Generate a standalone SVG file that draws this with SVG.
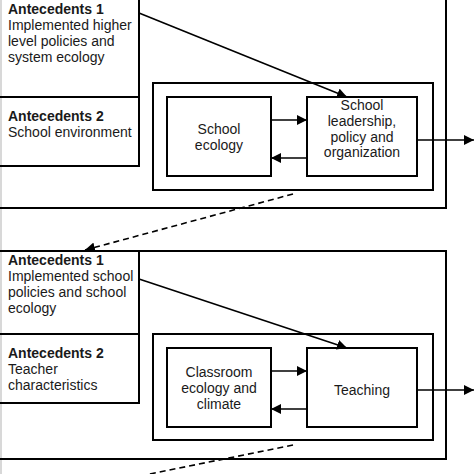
<svg xmlns="http://www.w3.org/2000/svg" width="474" height="474" viewBox="0 0 474 474">
<defs>
<style>
.box{fill:none;stroke:#000;stroke-width:2}
.ln{fill:none;stroke:#000;stroke-width:1.6}
.dash{fill:none;stroke:#000;stroke-width:1.6;stroke-dasharray:6,4}
text{font-family:"Liberation Sans",Arial,sans-serif;font-size:14px;fill:#1a1a1a}
.b{font-weight:bold}
.c{text-anchor:middle}
</style>
<marker id="ah" viewBox="0 0 10 10" refX="10" refY="5" markerWidth="10" markerHeight="10" markerUnits="userSpaceOnUse" orient="auto">
<path d="M0,0 L10,5 L0,10 z" fill="#000"/>
</marker>
</defs>
<rect x="0" y="0" width="474" height="474" fill="#fff"/>
<line x1="1" y1="0" x2="1" y2="474" stroke="#d8d8d8" stroke-width="2"/>

<g id="section1">
<rect class="box" x="-5" y="-10" width="451" height="218"/>
</g>
<g id="antecedents1-top">
<rect class="box" x="-5" y="-10" width="144" height="107"/>
<text class="b" x="8" y="14">Antecedents 1</text>
<text x="8" y="30">Implemented higher</text>
<text x="8" y="46">level policies and</text>
<text x="8" y="62">system ecology</text>
</g>
<g id="antecedents2-top">
<rect class="box" x="-5" y="97" width="144" height="69"/>
<text class="b" x="8" y="121">Antecedents 2</text>
<text x="8" y="137">School environment</text>
</g>
<g id="inner-top">
<rect class="box" x="153" y="83" width="280" height="107"/>
</g>
<g id="school-ecology">
<rect class="box" x="167" y="97" width="104" height="79"/>
<text class="c" x="219" y="134">School</text>
<text class="c" x="219" y="150">ecology</text>
</g>
<g id="school-leadership">
<rect class="box" x="307" y="97" width="110" height="79"/>
<text class="c" x="362" y="110">School</text>
<text class="c" x="362" y="126">leadership,</text>
<text class="c" x="362" y="142">policy and</text>
<text class="c" x="362" y="157">organization</text>
</g>

<g id="section2">
<rect class="box" x="-5" y="251" width="451" height="208"/>
</g>
<g id="antecedents1-bottom">
<rect class="box" x="-5" y="251" width="144" height="83"/>
<text class="b" x="8" y="265">Antecedents 1</text>
<text x="8" y="281">Implemented school</text>
<text x="8" y="297">policies and school</text>
<text x="8" y="313">ecology</text>
</g>
<g id="antecedents2-bottom">
<rect class="box" x="-5" y="334" width="144" height="69"/>
<text class="b" x="8" y="358">Antecedents 2</text>
<text x="8" y="374">Teacher</text>
<text x="8" y="390">characteristics</text>
</g>
<g id="inner-bottom">
<rect class="box" x="153" y="334" width="280" height="106"/>
</g>
<g id="classroom">
<rect class="box" x="167" y="348" width="104" height="79"/>
<text class="c" x="219" y="377">Classroom</text>
<text class="c" x="219" y="393">ecology and</text>
<text class="c" x="219" y="409">climate</text>
</g>
<g id="teaching">
<rect class="box" x="307" y="348" width="110" height="79"/>
<text class="c" x="362" y="395">Teaching</text>
</g>

<g id="connectors">
<line class="ln" x1="139" y1="13" x2="347" y2="97" marker-end="url(#ah)"/>
<line class="ln" x1="271" y1="120" x2="307" y2="120" marker-end="url(#ah)"/>
<line class="ln" x1="307" y1="158" x2="271" y2="158" marker-end="url(#ah)"/>
<line class="ln" x1="417" y1="140" x2="474" y2="140" marker-end="url(#ah)"/>
<line class="dash" x1="293" y1="194" x2="85" y2="250" marker-end="url(#ah)"/>
<line class="ln" x1="139" y1="279" x2="347" y2="348" marker-end="url(#ah)"/>
<line class="ln" x1="271" y1="371" x2="307" y2="371" marker-end="url(#ah)"/>
<line class="ln" x1="307" y1="409" x2="271" y2="409" marker-end="url(#ah)"/>
<line class="ln" x1="417" y1="390" x2="474" y2="390" marker-end="url(#ah)"/>
<line class="dash" x1="293" y1="445" x2="140" y2="476"/>
</g>
</svg>
